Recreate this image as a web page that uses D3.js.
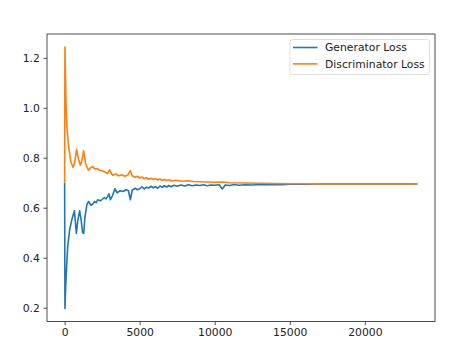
<html>
  <meta charset="utf-8" />
  <script src="https://d3js.org/d3.v7.min.js"></script>
  <style>
    body { margin: 0; background: #fff; }
    text { font-family: "DejaVu Sans", sans-serif; fill: #222; }
  </style>
  <body>
    <div id="chart"></div>
    <script>
      // training steps and losses
      const genSteps = [0, 20, 80, 200, 330, 470, 650, 720, 780, 880, 1000, 1100, 1200, 1270, 1350, 1490, 1600, 1750, 1870, 2000, 2100, 2200, 2400, 2640, 2750, 2870, 2950, 3050, 3200, 3350, 3500, 3700, 3900, 4100, 4250, 4380, 4500, 4700, 4850, 5000, 5150, 5300, 5450, 5600, 5750, 5900, 6050, 6200, 6350, 6500, 6650, 6800, 6950, 7100, 7300, 7500, 7750, 8000, 8250, 8500, 8750, 9000, 9250, 9500, 9750, 10000, 10300, 10500, 10700, 11000, 11300, 11600, 12000, 12500, 13000, 13500, 14000, 14500, 15000, 16000, 17000, 20000, 23500];
      const genLoss = [0.70, 0.197, 0.30, 0.44, 0.51, 0.55, 0.588, 0.54, 0.497, 0.55, 0.588, 0.55, 0.50, 0.497, 0.56, 0.615, 0.625, 0.61, 0.615, 0.625, 0.62, 0.632, 0.628, 0.641, 0.635, 0.645, 0.656, 0.632, 0.65, 0.676, 0.66, 0.668, 0.665, 0.672, 0.668, 0.632, 0.67, 0.678, 0.672, 0.676, 0.684, 0.675, 0.682, 0.679, 0.686, 0.680, 0.684, 0.678, 0.687, 0.682, 0.688, 0.683, 0.689, 0.684, 0.690, 0.686, 0.691, 0.687, 0.692, 0.688, 0.691, 0.689, 0.692, 0.688, 0.691, 0.690, 0.692, 0.675, 0.691, 0.689, 0.693, 0.690, 0.692, 0.691, 0.693, 0.692, 0.693, 0.692, 0.694, 0.694, 0.695, 0.695, 0.695];

      const discSteps = [0, 20, 60, 90, 155, 270, 420, 560, 650, 800, 900, 1050, 1150, 1270, 1400, 1580, 1700, 1870, 2000, 2150, 2330, 2500, 2700, 2870, 3000, 3100, 3200, 3400, 3600, 3800, 4000, 4200, 4380, 4500, 4700, 4850, 5000, 5150, 5300, 5450, 5600, 5750, 5900, 6050, 6200, 6350, 6500, 6650, 6800, 6950, 7100, 7400, 7800, 8200, 8600, 9000, 9500, 10000, 10500, 11000, 12000, 13000, 14000, 15000, 16000, 17000, 18000, 20000, 22000, 23500];
      const discLoss = [0.70, 1.243, 1.12, 1.02, 0.92, 0.842, 0.782, 0.762, 0.775, 0.834, 0.80, 0.77, 0.79, 0.828, 0.775, 0.75, 0.758, 0.765, 0.755, 0.757, 0.750, 0.748, 0.742, 0.738, 0.752, 0.738, 0.730, 0.735, 0.728, 0.732, 0.726, 0.730, 0.748, 0.728, 0.722, 0.726, 0.719, 0.723, 0.716, 0.720, 0.714, 0.718, 0.713, 0.717, 0.711, 0.715, 0.710, 0.713, 0.709, 0.712, 0.707, 0.710, 0.706, 0.708, 0.705, 0.704, 0.703, 0.702, 0.703, 0.700, 0.699, 0.698, 0.697, 0.696, 0.696, 0.695, 0.695, 0.695, 0.695, 0.695];

      const xTicks = [0, 5000, 10000, 15000, 20000];
      const yTicks = [0.2, 0.4, 0.6, 0.8, 1.0, 1.2];

      const series = [
        { name: "Generator Loss", color: "#1f77b4", steps: genSteps, values: genLoss },
        { name: "Discriminator Loss", color: "#ff7f0e", steps: discSteps, values: discLoss }
      ];

      const W = 474, H = 353;
      const mLeft = 47, mTop = 34, mRight = 435, mBottom = 321.5;

      const svg = d3.select("#chart").append("svg")
        .attr("width", W)
        .attr("height", H);

      // matplotlib style 5% margins
      const allX = genSteps.concat(discSteps);
      const allY = genLoss.concat(discLoss);
      const [x0, x1] = d3.extent(allX);
      const [y0, y1] = d3.extent(allY);
      const mx = (x1 - x0) * 0.05, my = (y1 - y0) * 0.05;

      const x = d3.scaleLinear().domain([x0 - mx, x1 + mx]).range([mLeft, mRight]);
      const y = d3.scaleLinear().domain([y0 - my, y1 + my]).range([mBottom, mTop]);

      const line = d3.line()
        .x(d => x(d[0]))
        .y(d => y(d[1]));

      const plot = svg.append("g");
      series.forEach(s => {
        plot.append("path")
          .datum(s.steps.map((st, i) => [st, s.values[i]]))
          .attr("fill", "none")
          .attr("stroke", s.color)
          .attr("stroke-width", 1.6)
          .attr("stroke-linejoin", "round")
          .attr("d", line);
      });

      // axes
      const xAxis = svg.append("g")
        .attr("transform", `translate(0,${mBottom})`)
        .call(d3.axisBottom(x).tickValues(xTicks).tickFormat(d3.format("d")).tickSize(3.6).tickPadding(3.5));
      const yAxis = svg.append("g")
        .attr("transform", `translate(${mLeft},0)`)
        .call(d3.axisLeft(y).tickValues(yTicks).tickFormat(d3.format(".1f")).tickSize(3.6).tickPadding(3.5));

      [xAxis, yAxis].forEach(a => {
        a.select(".domain").remove();
        a.selectAll("line").attr("stroke", "#222").attr("stroke-width", 0.8);
        a.selectAll("text").attr("font-size", "10.8px").attr("fill", "#222")
          .attr("font-family", "DejaVu Sans, sans-serif");
      });

      svg.append("rect")
        .attr("x", mLeft).attr("y", mTop)
        .attr("width", mRight - mLeft).attr("height", mBottom - mTop)
        .attr("fill", "none")
        .attr("stroke", "#222")
        .attr("stroke-width", 0.8);

      // legend
      const legend = svg.append("g").attr("transform", "translate(290,39.5)");
      legend.append("rect")
        .attr("width", 139.5).attr("height", 35)
        .attr("rx", 2.5)
        .attr("fill", "#fff").attr("fill-opacity", 0.8)
        .attr("stroke", "#d5d5d5").attr("stroke-width", 0.8);
      series.forEach((s, i) => {
        const cy = 8 + i * 16.4;
        legend.append("line")
          .attr("x1", 3).attr("x2", 27.5)
          .attr("y1", cy).attr("y2", cy)
          .attr("stroke", s.color).attr("stroke-width", 1.6);
        legend.append("text")
          .attr("x", 35).attr("y", cy)
          .attr("dy", "0.35em")
          .attr("font-size", "10.8px")
          .text(s.name);
      });
    </script>
  </body>
</html>
